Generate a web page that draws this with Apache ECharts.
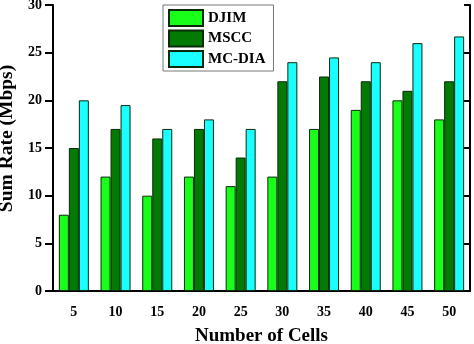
<!DOCTYPE html>
<html>
<head>
<meta charset="utf-8">
<script src="https://cdn.jsdelivr.net/npm/echarts@6/dist/echarts.min.js"></script>
<style>html,body{margin:0;padding:0;background:#fff;}#c{width:474px;height:344px;}</style>
</head>
<body>
<div id="c"></div>
<script>
var categories = ['5','10','15','20','25','30','35','40','45','50'];
var djim = [8, 12, 10, 12, 11, 12, 17, 19, 20, 18];
var mscc = [15, 17, 16, 17, 14, 22, 22.5, 22, 21, 22];
var mcdia = [20, 19.5, 17, 18, 17, 24, 24.5, 24, 26, 26.7];
var yTicks = [0, 5, 10, 15, 20, 25, 30];

var font = 'Liberation Serif';
var chart = echarts.init(document.getElementById('c'), null, {renderer: 'canvas'});
function bar(name, data, color) {
  return {
    name: name, type: 'bar', data: data, barWidth: 10, barGap: '0%',
    xAxisIndex: 0, yAxisIndex: 0,
    itemStyle: {color: color, borderColor: '#0a2a0a', borderWidth: 1}
  };
}
chart.setOption({
  animation: false,
  grid: {left: 53, right: 4, top: 5, bottom: 53, containLabel: false, outerBoundsMode: 'none'},
  legend: {
    orient: 'vertical', left: 163, top: 5,
    icon: 'rect',
    itemWidth: 34, itemHeight: 16, itemGap: 2.5,
    padding: [4, 8, 3, 5],
    borderColor: '#777', borderWidth: 1, backgroundColor: '#fff',
    textStyle: {fontFamily: font, fontWeight: 'bold', fontSize: 15, lineHeight: 16, color: '#000'},
    data: ['DJIM', 'MSCC', 'MC-DIA']
  },
  xAxis: [{
    type: 'category', data: categories, position: 'bottom',
    name: 'Number of Cells', nameLocation: 'middle', nameGap: 36,
    nameTextStyle: {fontFamily: font, fontWeight: 'bold', fontSize: 19, color: '#000'},
    axisLine: {lineStyle: {color: '#000', width: 2}},
    axisTick: {alignWithLabel: true, length: 6, lineStyle: {color: '#000', width: 2}},
    axisLabel: {fontFamily: font, fontWeight: 'bold', fontSize: 14, color: '#000', margin: 14}
  }, {
    type: 'category', data: categories, position: 'top',
    axisLine: {lineStyle: {color: '#000', width: 2}},
    axisTick: {alignWithLabel: true, inside: true, length: 8, lineStyle: {color: '#000', width: 2}},
    axisLabel: {show: false}
  }],
  yAxis: [{
    type: 'value', min: 0, max: 30, interval: 5, position: 'left',
    name: 'Sum Rate (Mbps)', nameLocation: 'middle', nameGap: 36,
    nameTextStyle: {fontFamily: font, fontWeight: 'bold', fontSize: 19.5, color: '#000', padding: [0, 0, 0, 19]},
    axisLine: {show: true, lineStyle: {color: '#000', width: 2}},
    axisTick: {show: true, length: 8, lineStyle: {color: '#000', width: 2}},
    axisLabel: {fontFamily: font, fontWeight: 'bold', fontSize: 14, color: '#000', margin: 11,
      formatter: function (v) { return yTicks.indexOf(v) >= 0 ? String(v) : ''; }},
    splitLine: {show: false}
  }, {
    type: 'value', min: 0, max: 30, interval: 5, position: 'right',
    axisLine: {show: true, lineStyle: {color: '#000', width: 2}},
    axisTick: {show: true, inside: true, length: 6, lineStyle: {color: '#000', width: 2}},
    axisLabel: {show: false},
    splitLine: {show: false}
  }],
  series: [
    bar('DJIM', djim, '#1aff1a'),
    bar('MSCC', mscc, '#037a03'),
    bar('MC-DIA', mcdia, '#1affff')
  ]
});
</script>
</body>
</html>
